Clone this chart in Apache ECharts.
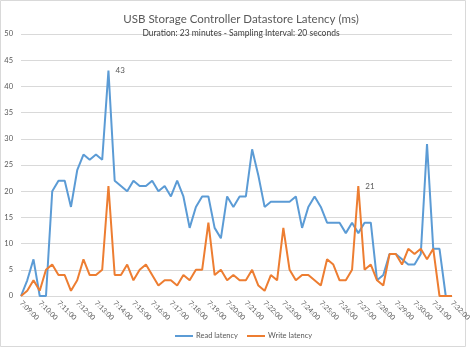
<!DOCTYPE html>
<html>
<head>
<meta charset="utf-8">
<script src="https://cdn.jsdelivr.net/npm/echarts@6/dist/echarts.min.js"></script>
<style>
  html, body { margin: 0; padding: 0; background: #ffffff; }
  #chart { width: 474px; height: 349px; }
</style>
</head>
<body>
<div id="chart"></div>
<script>
// Samples every 20 seconds from 7:09:00 to 7:32:00
const times = [
  "7:09:00","7:09:20","7:09:40","7:10:00","7:10:20","7:10:40","7:11:00","7:11:20","7:11:40",
  "7:12:00","7:12:20","7:12:40","7:13:00","7:13:20","7:13:40","7:14:00","7:14:20","7:14:40",
  "7:15:00","7:15:20","7:15:40","7:16:00","7:16:20","7:16:40","7:17:00","7:17:20","7:17:40",
  "7:18:00","7:18:20","7:18:40","7:19:00","7:19:20","7:19:40","7:20:00","7:20:20","7:20:40",
  "7:21:00","7:21:20","7:21:40","7:22:00","7:22:20","7:22:40","7:23:00","7:23:20","7:23:40",
  "7:24:00","7:24:20","7:24:40","7:25:00","7:25:20","7:25:40","7:26:00","7:26:20","7:26:40",
  "7:27:00","7:27:20","7:27:40","7:28:00","7:28:20","7:28:40","7:29:00","7:29:20","7:29:40",
  "7:30:00","7:30:20","7:30:40","7:31:00","7:31:20","7:31:40","7:32:00"
];

// Read latency (ms)
const readLatency = [
  0, 3, 7, 0, 0, 20, 22, 22, 17, 24, 27, 26, 27, 26, 43, 22, 21, 20,
  22, 21, 21, 22, 20, 21, 19, 22, 19, 13, 17, 19, 19, 13, 11, 19, 17, 19,
  19, 28, 23, 17, 18, 18, 18, 18, 19, 13, 17, 19, 17, 14, 14, 14, 12, 14,
  12, 14, 14, 3, 4, 8, 8, 7, 6, 6, 8, 29, 9, 9, 0, 0
];

// Write latency (ms)
const writeLatency = [
  0, 1, 3, 1, 5, 6, 4, 4, 1, 3, 7, 4, 4, 5, 21, 4, 4, 6,
  3, 5, 6, 4, 2, 3, 3, 2, 4, 3, 5, 5, 14, 4, 5, 3, 4, 3,
  3, 5, 2, 1, 4, 3, 13, 5, 3, 4, 4, 3, 2, 7, 6, 3, 3, 5,
  21, 5, 6, 3, 2, 8, 8, 6, 9, 8, 9, 7, 9, 0, 0, 0
];

// Points whose value is printed next to the line
const readLabelled = [14];
const writeLabelled = [54];

const titleText = "USB Storage Controller Datastore Latency (ms)";
const subtitleText = "Duration: 23 minutes - Sampling Interval: 20 seconds";

const FONT = "Lato";

// Labelled points get an invisible symbol so the line series can carry their label
function withLabels(values, labelled) {
  return values.map((v, i) => labelled.includes(i)
    ? { value: v, symbol: "circle", symbolSize: 0.1, label: { show: true } }
    : v);
}

const chart = echarts.init(document.getElementById("chart"), null, { renderer: "canvas" });

const valueLabel = {
  show: false, position: "right", distance: 7,
  fontSize: 8, color: "#595959", fontFamily: FONT
};

chart.setOption({
  animation: false,
  backgroundColor: "#ffffff",
  textStyle: { fontFamily: FONT },
  graphic: [{
    type: "rect",
    shape: { x: 0.5, y: 0.5, width: 465, height: 346 },
    style: { fill: "none", stroke: "#d9d9d9", lineWidth: 1 },
    silent: true
  }],
  title: {
    text: titleText,
    subtext: subtitleText,
    left: 236,
    textAlign: "center",
    top: 8,
    itemGap: 4,
    textStyle: { fontFamily: FONT, fontSize: 11.5, fontWeight: "normal", color: "#595959" },
    subtextStyle: { fontFamily: FONT, fontSize: 8.5, color: "#404040" }
  },
  legend: {
    bottom: 4,
    left: 170,
    itemWidth: 18,
    itemHeight: 2,
    itemGap: 9,
    icon: "rect",
    textStyle: { fontFamily: FONT, fontSize: 7.5, color: "#595959", padding: [0, 0, 0, -2] },
    data: ["Read latency", "Write latency"]
  },
  grid: { left: 21, right: 22, top: 34, bottom: 53, containLabel: false },
  xAxis: {
    type: "category",
    data: times,
    boundaryGap: false,
    axisLine: { lineStyle: { color: "#d9d9d9" } },
    axisTick: { show: false },
    axisLabel: {
      interval: 2,
      rotate: -45,
      fontSize: 7,
      color: "#595959",
      margin: 6,
      fontFamily: FONT
    },
    splitLine: { show: false }
  },
  yAxis: {
    type: "value",
    min: 0,
    max: 50,
    interval: 5,
    axisLine: { show: false },
    axisTick: { show: false },
    axisLabel: { fontSize: 7.5, color: "#595959", margin: 8, fontFamily: FONT },
    splitLine: { lineStyle: { color: "#d9d9d9", width: 1 } }
  },
  series: [
    {
      name: "Read latency",
      type: "line",
      data: withLabels(readLatency, readLabelled),
      symbol: "none",
      showAllSymbol: true,
      lineStyle: { color: "#5b9bd5", width: 2 },
      itemStyle: { color: "#5b9bd5" },
      label: valueLabel
    },
    {
      name: "Write latency",
      type: "line",
      data: withLabels(writeLatency, writeLabelled),
      symbol: "none",
      showAllSymbol: true,
      lineStyle: { color: "#ed7d31", width: 2 },
      itemStyle: { color: "#ed7d31" },
      label: valueLabel
    }
  ]
});
</script>
</body>
</html>
